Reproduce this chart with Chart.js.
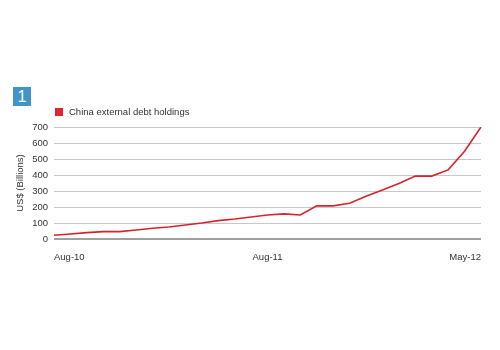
<!DOCTYPE html>
<html>
<head>
<meta charset="utf-8">
<script src="https://cdn.jsdelivr.net/npm/chart.js@4/dist/chart.umd.min.js"></script>
<style>
body { margin:0; background:#fff; }
#wrap { position:relative; width:500px; height:350px; font-family:"Liberation Sans", Arial, sans-serif; }
#badge { position:absolute; left:13px; top:87px; width:18px; height:19px; background:#3f95c7; color:#fff;
  font-size:16px; font-weight:normal; line-height:19px; text-align:center; }
#legend { position:absolute; left:55px; top:106px; font-size:9.5px; color:#333; line-height:11px; }
#legend span { display:inline-block; width:8px; height:8px; background:#e0262d; margin-right:6px; vertical-align:-1px; }
canvas { position:absolute; left:0; top:0; }
</style>
</head>
<body>
<div id="wrap">
<canvas id="myChart" width="500" height="350"></canvas>
<div id="badge">1</div>
<div id="legend"><span></span>China external debt holdings</div>
</div>
<script>
const seriesName = 'China external debt holdings';
const labels = ['Aug-10','','','','','','','','','','','','','Aug-11','','','','','','','','','','','','','May-12'];
const debt = [23,31,40,46,46,56,67,75,88,100,115,125,138,150,157,150,207,207,223,267,307,347,393,393,432,549,700];
const yTicks = [0,100,200,300,400,500,600,700];

const ctx = document.getElementById('myChart').getContext('2d');
const myChart = new Chart(ctx, {
    type: 'line',
    data: {
        labels: labels,
        datasets: [{
            label: seriesName,
            data: debt,
            borderColor: '#d8232a',
            borderWidth: 1.6,
            pointRadius: 0,
            tension: 0,
            fill: false
        }]
    },
    options: {
        responsive: false,
        animation: false,
        layout: { padding: { top: 127, right: 19, left: 0, bottom: 0 } },
        plugins: { legend: { display: false }, tooltip: { enabled: false } },
        scales: {
            x: {
                grid: { display: false },
                border: { display: false },
                afterFit: (s) => { s.height = 111; },
                ticks: {
                    autoSkip: false,
                    maxRotation: 0,
                    align: 'inner',
                    padding: 5,
                    color: '#333',
                    font: { family: 'Liberation Sans', size: 9.5 },
                    callback: (v, i) => labels[i]
                }
            },
            y: {
                min: 0,
                max: 700,
                afterFit: (s) => { s.width = 54; },
                afterBuildTicks: (s) => { s.ticks = yTicks.map(v => ({ value: v })); },
                border: { display: false },
                grid: {
                    drawTicks: false,
                    color: (c) => c.tick && c.tick.value === 0 ? '#a0a0a0' : '#c8c8c8',
                    lineWidth: (c) => c.tick && c.tick.value === 0 ? 2 : 1
                },
                ticks: {
                    padding: 6,
                    color: '#333',
                    font: { family: 'Liberation Sans', size: 9.5 }
                },
                title: {
                    display: true,
                    text: 'US$ (Billions)',
                    color: '#333',
                    padding: { top: 15, bottom: 0 },
                    font: { family: 'Liberation Sans', size: 9.5 }
                }
            }
        }
    }
});
</script>
</body>
</html>
